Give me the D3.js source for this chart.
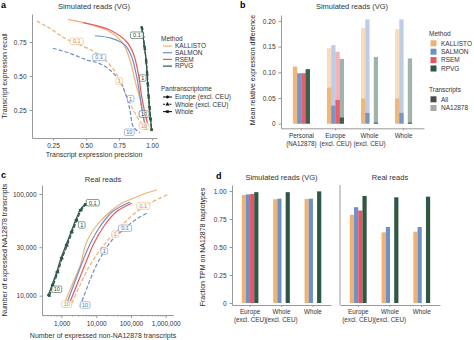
<!DOCTYPE html>
<html>
<head>
<meta charset="utf-8">
<script src="https://cdn.jsdelivr.net/npm/d3@7"></script>
<style>
  body { margin: 0; background: #fff; }
  svg { font-family: "Liberation Sans", Arial, sans-serif; }
</style>
</head>
<body>
<div id="fig"></div>
<script>
// methods and colours shared by all panels
const methods = ["KALLISTO", "SALMON", "RSEM", "RPVG"];
const methodColors = ["#eeb272", "#6d8fca", "#ea5460", "#2f5744"];
const pantranscriptomes = ["Europe (excl. CEU)", "Whole (excl. CEU)", "Whole"];

// a: simulated reads, [precision, recall]
const prKallistoEurope = [[0.364, 0.917], [0.48, 0.892], [0.68, 0.826], [0.78, 0.74], [0.833, 0.618], [0.87, 0.47], [0.91, 0.324], [0.934, 0.2], [0.96, 0.115]];
const prRsemEurope = [[0.48, 0.892], [0.68, 0.838], [0.808, 0.752], [0.858, 0.667], [0.896, 0.52], [0.922, 0.348], [0.947, 0.226], [0.972, 0.127]];
const prSalmonEurope = [[0.568, 0.796], [0.695, 0.777], [0.795, 0.728], [0.846, 0.642], [0.884, 0.495], [0.914, 0.324], [0.939, 0.176], [0.96, 0.103]];
const prKallistoWholeExcl = [[0.127, 0.904], [0.227, 0.85], [0.341, 0.777], [0.43, 0.74], [0.581, 0.667], [0.682, 0.581], [0.758, 0.47], [0.808, 0.348], [0.858, 0.25], [0.909, 0.164], [0.96, 0.09]];
const prSalmonWholeExcl = [[0.25, 0.704], [0.379, 0.667], [0.505, 0.618], [0.6, 0.593], [0.682, 0.544], [0.758, 0.458], [0.803, 0.36], [0.833, 0.25], [0.858, 0.127], [0.909, 0.083]];
const prRpvgEurope = [[0.922, 0.858], [0.929, 0.814], [0.942, 0.72], [0.955, 0.618], [0.962, 0.53], [0.967, 0.446], [0.973, 0.36], [0.98, 0.274], [0.988, 0.19], [0.998, 0.103]];
const prRpvgWholeExcl = [[0.926, 0.85], [0.934, 0.79], [0.946, 0.7], [0.957, 0.6], [0.965, 0.51], [0.97, 0.43], [0.976, 0.34], [0.983, 0.26], [0.99, 0.18], [0.996, 0.11]];
const prRpvgWhole = [[0.924, 0.854], [0.931, 0.8], [0.944, 0.71], [0.956, 0.61], [0.963, 0.52], [0.968, 0.44], [0.974, 0.35], [0.981, 0.27], [0.989, 0.185], [0.997, 0.106]];

// TPM thresholds marked on the curves: [method, threshold, precision, recall]
const prThresholds = [
  ["RPVG", "0.1", 0.886, 0.80], ["RPVG", "1", 0.93, 0.485], ["RPVG", "10", 0.94, 0.22],
  ["KALLISTO", "0.1", 0.43, 0.755], ["KALLISTO", "1", 0.752, 0.463], ["KALLISTO", "10", 0.94, 0.132],
  ["SALMON", "0.1", 0.60, 0.637], ["SALMON", "1", 0.838, 0.333], ["SALMON", "10", 0.828, 0.086]
];

// b: mean relative expression difference
const groupsB = ["Personal|(NA12878)", "Europe|(excl. CEU)", "Whole|(excl. CEU)", "Whole"];
const diffAll = [
  [0.111, 0.070, 0.049, 0.049],   // KALLISTO
  [0.098, 0.035, 0.021, 0.021],   // SALMON
  [0.098, 0.046, null, null],     // RSEM
  [0.106, 0.012, 0.002, 0.002]    // RPVG
];
const diffNA12878 = [
  [0.111, 0.147, 0.186, 0.184],
  [0.098, 0.153, 0.203, 0.203],
  [0.098, 0.140, null, null],
  [0.106, 0.126, 0.130, 0.127]
];

// c: real reads, [expressed non-NA12878 transcripts, expressed NA12878 transcripts]
const realKallistoEurope = [[1262, 8730], [2007, 12740], [3412, 19590], [5323, 33960], [10550, 49560], [25000, 66960], [55400, 81560], [117300, 90730], [254500, 101100], [554000, 109500]];
const realSalmonEurope = [[1440, 8480], [2291, 13030], [3898, 20980], [6627, 32250], [12870, 47910], [28540, 66530], [94200, 83460]];
const realRsemEurope = [[1758, 8730], [2989, 13640], [5083, 21440], [8643, 32970], [16780, 48450], [37200, 66530], [105500, 81000]];
const realKallistoWholeExcl = [[2007, 8480], [3412, 12740], [6627, 20040], [12870, 28130], [21880, 35300], [34800, 41100], [67600, 53070], [147000, 66960], [355000, 81560], [1196000, 99300]];
const realSalmonWholeExcl = [[3412, 7800], [5807, 12740], [9870, 19590], [17110, 27510], [28540, 35300], [67600, 46000], [131200, 55500], [285300, 64600]];
const realRpvgEurope = [[417, 10160], [532, 12740], [727, 17100], [967, 23500], [1348, 31500], [1878, 42300], [2567, 55500], [3412, 69600], [4754, 79200]];
const realRpvgWholeExcl = [[450, 10000], [575, 12600], [790, 17000], [1050, 23300], [1460, 31200], [2030, 42000], [2780, 55000], [3700, 69000], [5150, 78500]];
const realRpvgWhole = [[435, 10080], [555, 12680], [760, 17050], [1010, 23400], [1400, 31350], [1950, 42150], [2670, 55250], [3550, 69300], [4950, 78850]];

const realThresholds = [
  ["RPVG", "10", 728, 11560], ["RPVG", "1", 3820, 49600], ["RPVG", "0.1", 7930, 82100],
  ["KALLISTO", "10", 1410, 8230], ["KALLISTO", "1", 34800, 40200], ["KALLISTO", "0.1", 227000, 76200],
  ["SALMON", "10", 4760, 8100], ["SALMON", "1", 17100, 27500], ["SALMON", "0.1", 67600, 46000]
];

// d: fraction TPM on NA12878 haplotypes
const setsD = ["Europe|(excl. CEU)", "Whole|(excl. CEU)", "Whole"];
const fracSimulated = [
  [0.965, 0.927, 0.930],
  [0.970, 0.932, 0.932],
  [0.973, null, null],
  [0.990, 0.990, 0.997]
];
const fracReal = [
  [0.788, 0.631, 0.637],
  [0.856, 0.679, 0.679],
  [0.826, null, null],
  [0.956, 0.944, 0.950]
];

const color = d3.scaleOrdinal().domain(methods).range(methodColors);
const dashes = d3.scaleOrdinal().domain(pantranscriptomes).range([null, "4,2", "1.2,1.2"]);
const shapes = d3.scaleOrdinal().domain(pantranscriptomes).range([d3.symbolCircle, d3.symbolTriangle, d3.symbolSquare]);

const svg = d3.select("#fig").append("svg").attr("width", 474).attr("height", 340);

const fmt2 = d => d === 0 ? "0" : d3.format(".2f")(d);

function styleAxis(g) {
  g.attr("font-family", null).attr("font-size", null);
  g.select(".domain").attr("stroke", "#9a9a9a");
  g.selectAll(".tick line").attr("stroke", "#9a9a9a");
  g.selectAll(".tick text").attr("fill", "#333").attr("font-size", 6.5);
}

// two-line category labels split on "|"
function wrapLabels(g) {
  g.selectAll(".tick text").each(function(d) {
    const t = d3.select(this);
    t.text(null);
    d.split("|").forEach((s, i) => t.append("tspan").attr("x", 0).attr("dy", i ? "1.25em" : "0.71em").text(s));
  });
}

function title(x, y, txt, size) {
  svg.append("text").attr("x", x).attr("y", y).attr("text-anchor", "middle")
    .attr("font-size", size || 7.5).attr("fill", "#333").text(txt);
}

function yTitle(x, y, txt) {
  svg.append("text").attr("transform", `translate(${x},${y}) rotate(-90)`).attr("text-anchor", "middle")
    .attr("font-size", 7).attr("fill", "#222").text(txt);
}

function letter(x, y, txt) {
  svg.append("text").attr("x", x).attr("y", y).attr("font-size", 9).attr("font-weight", "bold").text(txt);
}

function tag(g, x, y, txt, c) {
  const w = txt.length * 3.2 + 3.5, h = 6.5;
  g.append("rect").attr("x", x - w / 2).attr("y", y - h / 2).attr("width", w).attr("height", h).attr("rx", 1.5)
    .attr("fill", "#fff").attr("fill-opacity", 0.8).attr("stroke", c).attr("stroke-width", 0.6);
  g.append("text").attr("x", x).attr("y", y).attr("dy", "0.35em").attr("text-anchor", "middle")
    .attr("font-size", 5.5).attr("fill", d3.color(c).darker(0.7)).text(txt);
}

function drawCurves(g, curves, x, y) {
  const line = d3.line().x(d => x(d[0])).y(d => y(d[1])).curve(d3.curveCatmullRom);
  curves.forEach(c => {
    g.append("path").attr("d", line(c.pts)).attr("fill", "none")
      .attr("stroke", color(c.m)).attr("stroke-width", 1.2)
      .attr("stroke-dasharray", dashes(c.p));
    if (c.m === "RPVG") {
      g.selectAll(null).data(c.pts).join("path")
        .attr("transform", d => `translate(${x(d[0])},${y(d[1])})`)
        .attr("d", d3.symbol(shapes(c.p), 5))
        .attr("fill", color(c.m));
    }
  });
}

// ---------- a ----------
const xA = d3.scaleLinear().domain([0.091, 1.038]).range([32, 157]);
const yA = d3.scaleLinear().domain([0.044, 0.956]).range([138, 14]);
const gA = svg.append("g");
gA.append("g").attr("transform", "translate(0,138)")
  .call(d3.axisBottom(xA).tickValues([0.25, 0.5, 0.75, 1]).tickFormat(fmt2).tickSize(2.5).tickSizeOuter(0)).call(styleAxis);
gA.append("g").attr("transform", "translate(32,0)")
  .call(d3.axisLeft(yA).tickValues([0.25, 0.5, 0.75]).tickFormat(fmt2).tickSize(2.5).tickSizeOuter(0)).call(styleAxis);

drawCurves(gA, [
  { m: "KALLISTO", p: pantranscriptomes[1], pts: prKallistoWholeExcl },
  { m: "SALMON", p: pantranscriptomes[1], pts: prSalmonWholeExcl },
  { m: "KALLISTO", p: pantranscriptomes[0], pts: prKallistoEurope },
  { m: "SALMON", p: pantranscriptomes[0], pts: prSalmonEurope },
  { m: "RSEM", p: pantranscriptomes[0], pts: prRsemEurope },
  { m: "RPVG", p: pantranscriptomes[1], pts: prRpvgWholeExcl },
  { m: "RPVG", p: pantranscriptomes[2], pts: prRpvgWhole },
  { m: "RPVG", p: pantranscriptomes[0], pts: prRpvgEurope }
], xA, yA);
prThresholds.forEach(t => tag(gA, xA(t[2]), yA(t[3]), t[1], color(t[0])));

letter(1, 8, "a");
title(94, 9, "Simulated reads (VG)");
yTitle(7, 76, "Transcript expression recall");
title(94, 157, "Transcript expression precision", 7);

// legend a
const lgA = svg.append("g").attr("font-size", 6.5).attr("fill", "#333");
lgA.append("text").attr("x", 161).attr("y", 40.5).text("Method");
methods.forEach((m, i) => {
  const yy = 46 + i * 6.7;
  lgA.append("line").attr("x1", 163).attr("x2", 172).attr("y1", yy).attr("y2", yy).attr("stroke", color(m)).attr("stroke-width", 1.2);
  lgA.append("text").attr("x", 175).attr("y", yy).attr("dy", "0.35em").text(m);
});
lgA.append("text").attr("x", 161).attr("y", 90.5).text("Pantranscriptome");
pantranscriptomes.forEach((p, i) => {
  const yy = 97 + i * 7.3;
  lgA.append("line").attr("x1", 163).attr("x2", 172).attr("y1", yy).attr("y2", yy)
    .attr("stroke", "#111").attr("stroke-width", 1.1).attr("stroke-dasharray", i === 1 ? "2,1.2" : null);
  lgA.append("path").attr("transform", `translate(167.5,${yy})`).attr("d", d3.symbol(shapes(p), 7)).attr("fill", "#111");
  lgA.append("text").attr("x", 175).attr("y", yy).attr("dy", "0.35em").text(p);
});

// ---------- b ----------
const xB = d3.scaleBand().domain(groupsB).range([281, 424]).paddingInner(0.5).paddingOuter(0.35);
const xBm = d3.scaleBand().domain(methods).range([0, xB.bandwidth()]);
const yB = d3.scaleLinear().domain([-0.009, 0.2115]).range([128.3, 15]);
const gB = svg.append("g");
gB.append("g").attr("transform", "translate(0,128.3)")
  .call(d3.axisBottom(xB).tickSize(2).tickSizeOuter(0)).call(styleAxis).call(wrapLabels)
  .selectAll(".tick text").attr("y", 5).attr("font-size", 6.3);
gB.append("g").attr("transform", "translate(281,0)")
  .call(d3.axisLeft(yB).tickValues([0, 0.05, 0.1, 0.15, 0.2]).tickFormat(fmt2).tickSize(2.5).tickSizeOuter(0)).call(styleAxis);

methods.forEach((m, mi) => {
  groupsB.forEach((grp, gi) => {
    [[diffNA12878, 0.45], [diffAll, 0.9]].forEach(([vals, op]) => {
      const v = vals[mi][gi];
      if (v == null) return;
      gB.append("rect")
        .attr("x", xB(grp) + xBm(m)).attr("width", xBm.bandwidth())
        .attr("y", yB(v)).attr("height", yB(0) - yB(v))
        .attr("fill", color(m)).attr("fill-opacity", op);
    });
  });
});

letter(240, 8, "b");
title(352, 9, "Simulated reads (VG)");
yTitle(255, 70, "Mean relative expression difference");

const lgB = svg.append("g").attr("font-size", 6.5).attr("fill", "#333");
lgB.append("text").attr("x", 429).attr("y", 35.5).text("Method");
methods.forEach((m, i) => {
  const yy = 43.3 + i * 8.4;
  lgB.append("rect").attr("x", 430.5).attr("y", yy - 3).attr("width", 6).attr("height", 6).attr("fill", color(m));
  lgB.append("text").attr("x", 441).attr("y", yy).attr("dy", "0.35em").text(m);
});
lgB.append("text").attr("x", 429).attr("y", 91.5).text("Transcripts");
[["All", "#4a4a4a"], ["NA12878", "#a8a8a8"]].forEach(([t, c], i) => {
  const yy = 99.3 + i * 8.7;
  lgB.append("rect").attr("x", 430.5).attr("y", yy - 3).attr("width", 6).attr("height", 6).attr("fill", c);
  lgB.append("text").attr("x", 441).attr("y", yy).attr("dy", "0.35em").text(t);
});

// ---------- c ----------
const xC = d3.scaleLog().domain([274, 1.62e6]).range([42, 173]);
const yC = d3.scaleLog().domain([6460, 1.226e5]).range([315, 185]);
const gC = svg.append("g");
const minorC = [];
[100, 1000, 10000, 100000, 1000000].forEach(b => d3.range(2, 10).forEach(k => {
  const v = b * k;
  if (v > 274 && v < 1.62e6) minorC.push(v);
}));
gC.append("g").attr("transform", "translate(0,315)")
  .call(d3.axisBottom(xC).tickValues(minorC).tickFormat("").tickSize(1.5).tickSizeOuter(0)).call(styleAxis);
gC.append("g").attr("transform", "translate(0,315)")
  .call(d3.axisBottom(xC).tickValues([1e3, 1e4, 1e5, 1e6]).tickFormat(d3.format(",")).tickSize(3).tickSizeOuter(0)).call(styleAxis);
gC.append("g").attr("transform", "translate(42,0)")
  .call(d3.axisLeft(yC).tickValues([1e4, 3e4, 1e5]).tickFormat(d3.format(",")).tickSize(2.5).tickSizeOuter(0)).call(styleAxis);

drawCurves(gC, [
  { m: "KALLISTO", p: pantranscriptomes[1], pts: realKallistoWholeExcl },
  { m: "SALMON", p: pantranscriptomes[1], pts: realSalmonWholeExcl },
  { m: "KALLISTO", p: pantranscriptomes[0], pts: realKallistoEurope },
  { m: "SALMON", p: pantranscriptomes[0], pts: realSalmonEurope },
  { m: "RSEM", p: pantranscriptomes[0], pts: realRsemEurope },
  { m: "RPVG", p: pantranscriptomes[1], pts: realRpvgWholeExcl },
  { m: "RPVG", p: pantranscriptomes[2], pts: realRpvgWhole },
  { m: "RPVG", p: pantranscriptomes[0], pts: realRpvgEurope }
], xC, yC);
realThresholds.forEach(t => tag(gC, xC(t[2]), yC(t[3]), t[1], color(t[0])));

letter(1, 178, "c");
title(103, 182, "Real reads");
yTitle(7, 250, "Number of expressed NA12878 transcripts");
title(103, 338, "Number of expressed non-NA12878 transcripts", 7);

// ---------- d ----------
const yD = d3.scaleLinear().domain([-0.018, 1.054]).range([305, 185]);
const gD = svg.append("g");
gD.append("g").attr("transform", "translate(232,0)")
  .call(d3.axisLeft(yD).tickValues([0, 0.25, 0.5, 0.75, 1]).tickFormat(fmt2).tickSize(2.5).tickSizeOuter(0)).call(styleAxis);

[["Simulated reads (VG)", fracSimulated, [232, 331]], ["Real reads", fracReal, [340, 440]]].forEach(([name, vals, rng], fi) => {
  const xD = d3.scaleBand().domain(setsD).range(rng).paddingInner(0.47).paddingOuter(0.31);
  const xDm = d3.scaleBand().domain(methods).range([0, xD.bandwidth()]);
  gD.append("g").attr("transform", "translate(0,305)")
    .call(d3.axisBottom(xD).tickSize(2).tickSizeOuter(0)).call(styleAxis).call(wrapLabels)
    .selectAll(".tick text").attr("y", 5).attr("font-size", 6.3);
  if (fi > 0) {
    gD.append("line").attr("x1", rng[0]).attr("x2", rng[0]).attr("y1", 185).attr("y2", 305).attr("stroke", "#9a9a9a");
  }
  methods.forEach((m, mi) => {
    setsD.forEach((s, si) => {
      const v = vals[mi][si];
      if (v == null) return;
      gD.append("rect")
        .attr("x", xD(s) + xDm(m)).attr("width", xDm.bandwidth())
        .attr("y", yD(v)).attr("height", yD(0) - yD(v))
        .attr("fill", color(m));
    });
  });
  title((rng[0] + rng[1]) / 2, 180, name);
});

letter(216, 179, "d");
yTitle(205, 247, "Fraction TPM on NA12878 haplotypes");
</script>
</body>
</html>
